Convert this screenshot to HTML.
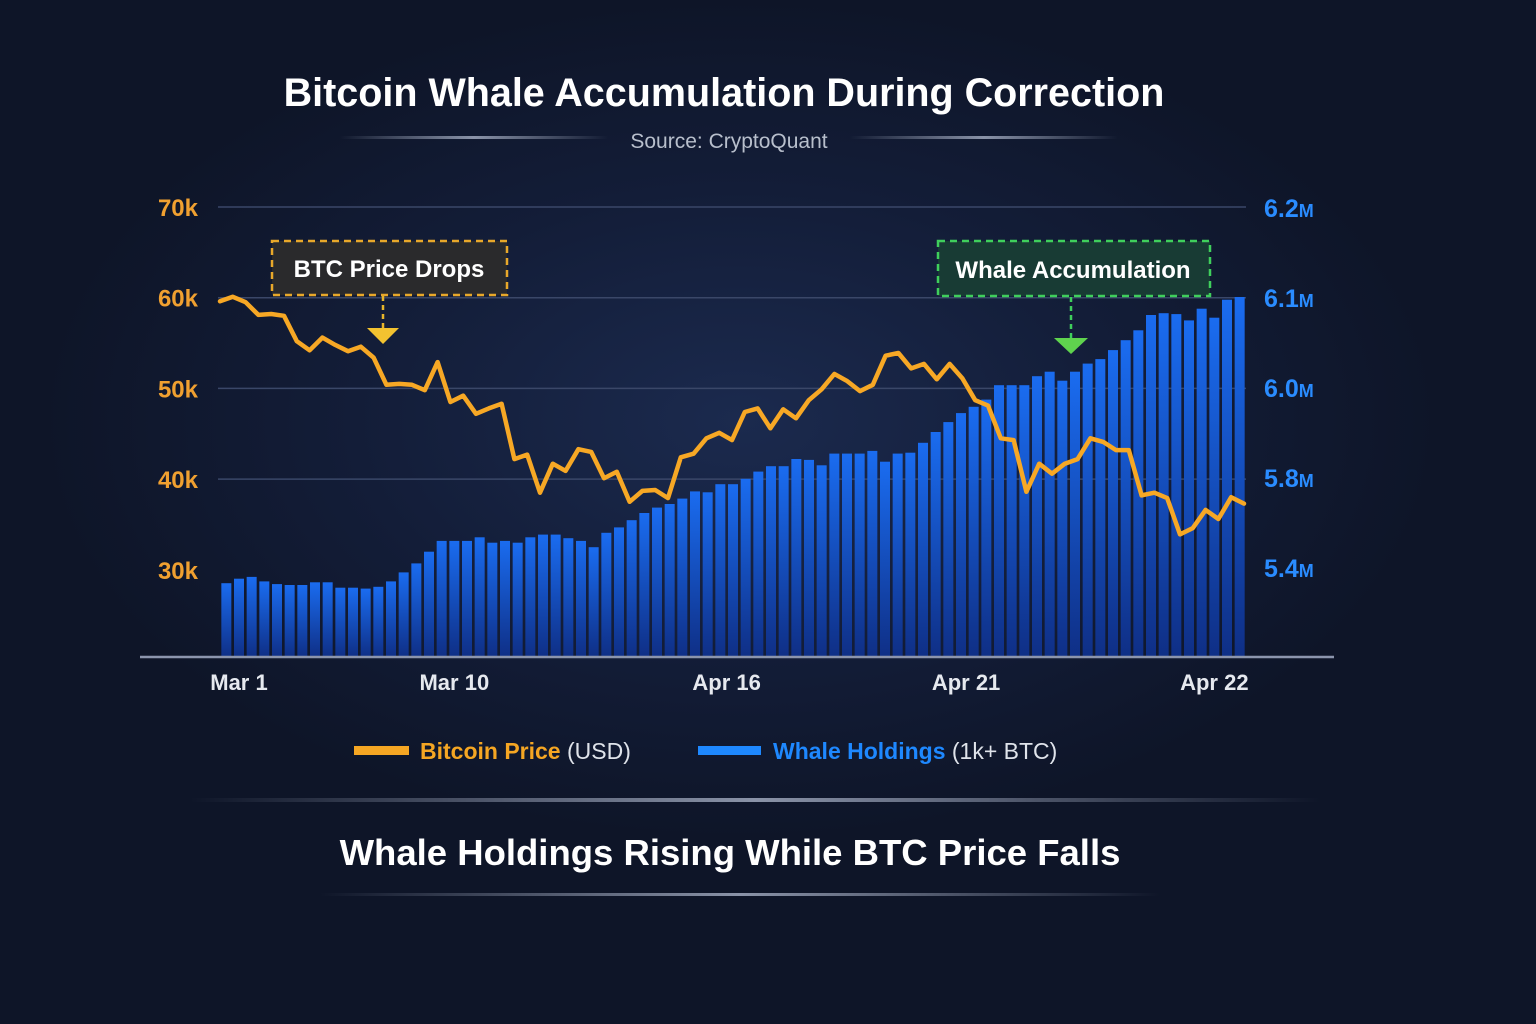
<!DOCTYPE html>
<html><head><meta charset="utf-8">
<style>
html,body{margin:0;padding:0;}
body{width:1536px;height:1024px;overflow:hidden;background:radial-gradient(ellipse 700px 420px at 740px 420px,#1b2a4e 0%,#131d38 55%,#0e1528 100%);font-family:"Liberation Sans",sans-serif;}
</style></head>
<body>
<svg id="chart" width="1536" height="1024" xmlns="http://www.w3.org/2000/svg" style="position:absolute;left:0;top:0">
<defs>
<linearGradient id="barg" x1="0" y1="0" x2="0" y2="1"><stop offset="0" stop-color="#1a6cf0"/><stop offset="1" stop-color="#0f2f86"/></linearGradient>
<linearGradient id="lineg" x1="0" y1="0" x2="1" y2="0"><stop offset="0" stop-color="#8a93a8" stop-opacity="0"/><stop offset="0.5" stop-color="#8a93a8"/><stop offset="1" stop-color="#8a93a8" stop-opacity="0"/></linearGradient>
</defs>
<text x="724" y="106" text-anchor="middle" fill="#fff" font-size="39.5" font-weight="bold">Bitcoin Whale Accumulation During Correction</text>
<rect x="340" y="136" width="268" height="3" fill="url(#lineg)"/>
<rect x="850" y="136" width="268" height="3" fill="url(#lineg)"/>
<text x="729" y="148" text-anchor="middle" fill="#b8bfcc" font-size="21">Source: CryptoQuant</text>
<g id="grid"></g><g id="bars"></g><g id="line"></g><g id="axes"></g>
<line x1="140" y1="657" x2="1334" y2="657" stroke="#8c95ad" stroke-width="2.5"/>
<g>
<rect x="272" y="241" width="235" height="54" fill="#2a2a2c" stroke="#e8a82a" stroke-width="2.5" stroke-dasharray="7,5"/>
<text x="389" y="277" text-anchor="middle" fill="#fff" font-size="24" font-weight="bold">BTC Price Drops</text>
<line x1="383" y1="296" x2="383" y2="328" stroke="#e8b52a" stroke-width="2.5" stroke-dasharray="5,4"/>
<polygon points="367,328 399,328 383,344" fill="#f2c230"/>
</g>
<g>
<rect x="938" y="241" width="272" height="55" fill="#183b34" stroke="#3fcf5c" stroke-width="2.5" stroke-dasharray="7,5"/>
<text x="1073" y="278" text-anchor="middle" fill="#fff" font-size="24" font-weight="bold">Whale Accumulation</text>
<line x1="1071" y1="297" x2="1071" y2="338" stroke="#3fcf5c" stroke-width="2.5" stroke-dasharray="5,4"/>
<polygon points="1054,338 1088,338 1071,354" fill="#5fd34e"/>
</g>
<g>
<rect x="354" y="746" width="55" height="9" fill="#f5a623"/>
<text x="420" y="759" font-size="23" font-weight="bold" fill="#f5a623">Bitcoin Price <tspan fill="#dfe3ea" font-weight="normal">(USD)</tspan></text>
<rect x="698" y="746" width="63" height="9" fill="#1e88ff"/>
<text x="773" y="759" font-size="23" font-weight="bold" fill="#1e88ff">Whale Holdings <tspan fill="#dfe3ea" font-weight="normal">(1k+ BTC)</tspan></text>
</g>
<rect x="190" y="798" width="1130" height="4" fill="url(#lineg)"/>
<text x="730" y="865" text-anchor="middle" fill="#fff" font-size="36.5" font-weight="bold">Whale Holdings Rising While BTC Price Falls</text>
<rect x="320" y="893" width="840" height="3" fill="url(#lineg)"/>
</svg>
<script>
const priceTicks=[70,60,50,40,30];
const priceTickLabels=['70k','60k','50k','40k','30k'];
const whaleTicks=[6.2,6.1,6.0,5.9,5.8];
const whaleTickLabels=['6.2M','6.1M','6.0M','5.8M','5.4M'];
const xLabels=['Mar 1','Mar 10','Apr 16','Apr 21','Apr 22'];
const xLabelIdx=[1,18,39.5,58.4,78];
const price=[59.6,60.1,59.5,58.1,58.2,58.0,55.2,54.2,55.6,54.8,54.1,54.6,53.4,50.4,50.5,50.4,49.8,52.9,48.5,49.2,47.2,47.8,48.3,42.2,42.7,38.5,41.7,40.9,43.3,43.0,40.1,40.8,37.5,38.7,38.8,37.9,42.4,42.8,44.5,45.1,44.3,47.4,47.8,45.6,47.7,46.7,48.7,49.9,51.6,50.8,49.7,50.4,53.6,53.9,52.2,52.7,51.0,52.7,51.1,48.7,48.1,44.5,44.3,38.6,41.7,40.6,41.7,42.2,44.5,44.1,43.2,43.2,38.2,38.5,37.9,33.9,34.6,36.6,35.6,38.0,37.3];
const whale=[5.782,5.787,5.789,5.784,5.781,5.780,5.780,5.783,5.783,5.777,5.777,5.776,5.778,5.784,5.794,5.804,5.817,5.829,5.829,5.829,5.833,5.827,5.829,5.827,5.833,5.836,5.836,5.832,5.829,5.822,5.838,5.844,5.852,5.860,5.866,5.870,5.876,5.884,5.883,5.892,5.892,5.898,5.906,5.912,5.912,5.920,5.919,5.913,5.926,5.926,5.926,5.929,5.917,5.926,5.927,5.938,5.950,5.961,5.971,5.978,5.986,6.002,6.002,6.002,6.012,6.017,6.007,6.017,6.026,6.031,6.041,6.052,6.063,6.080,6.082,6.081,6.074,6.087,6.077,6.097,6.100];
const NS='http://www.w3.org/2000/svg';
const X0=220,X1=1246,BASE=657;
const yP=v=>207+(70-v)*9.07;
const yW=v=>297+(6.1-v)*900;
const xB=(i,n)=>X0+(X1-X0)*(i+0.5)/n;
function mk(t,a,p){const e=document.createElementNS(NS,t);for(const k in a)e.setAttribute(k,a[k]);p.appendChild(e);return e;}
const grid=document.getElementById('grid'),axes=document.getElementById('axes');
priceTicks.forEach((v,i)=>{
 const y=yP(v);
 if(i<4){const l=mk('line',{x1:218,x2:1246,y1:y,y2:y,stroke:'#3a4768','stroke-width':1.5},grid);
 
 }
 const t=mk('text',{x:198,y:y+9,'text-anchor':'end',fill:'#f0a030','font-size':24,'font-weight':'bold'},axes);
 t.textContent=priceTickLabels[i];
 
 
});
whaleTicks.forEach((v,i)=>{
 const y=yW(v);
 const t=mk('text',{x:1264,y:y+10,fill:'#2a8cff','font-size':25,'font-weight':'bold'},axes);
 const m=whaleTickLabels[i];
 t.textContent=m.slice(0,-1);
 const ts=mk('tspan',{'font-size':18},t);ts.textContent=m.slice(-1);
 
 
});
const bars=document.getElementById('bars');
whale.forEach((v,i)=>{
 const x=xB(i,whale.length),y=yW(v);
 const r=mk('rect',{x:x-5,y:y,width:10,height:BASE-y,fill:'url(#barg)'},bars);
 
 
});
const pts=price.map((v,i)=>(X0+(1244-X0)*i/(price.length-1)).toFixed(1)+','+yP(v).toFixed(1)).join(' ');
const pl=mk('polyline',{points:pts,fill:'none',stroke:'#f7a825','stroke-width':4.5,'stroke-linejoin':'round','stroke-linecap':'round'},document.getElementById('line'));


xLabels.forEach((s,i)=>{
 const t=mk('text',{x:xB(xLabelIdx[i],whale.length),y:690,'text-anchor':'middle',fill:'#e6e9ef','font-size':22,'font-weight':'bold'},axes);
 t.textContent=s;
 
 
});
</script>
</body></html>
